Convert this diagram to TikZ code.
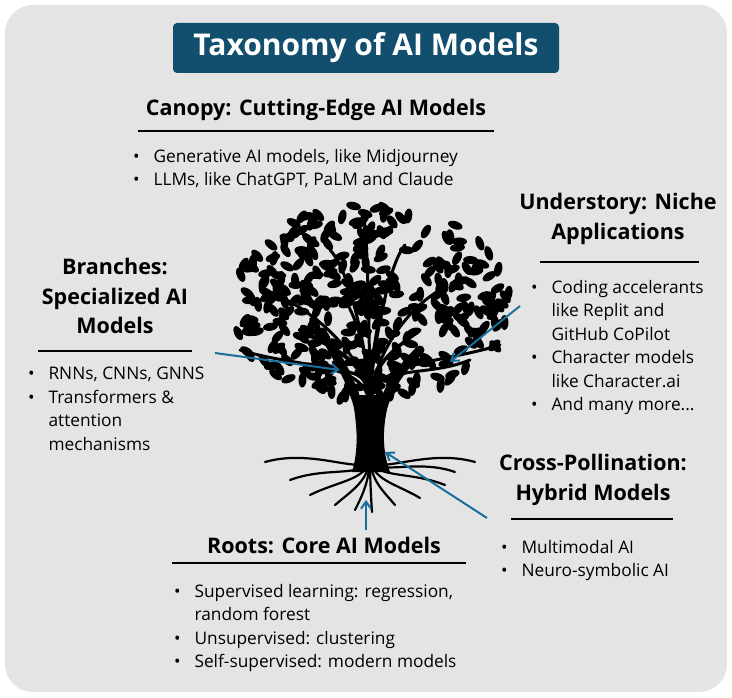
\documentclass[tikz,border=0pt]{standalone}
\usepackage{fontspec}
\setmainfont{Open Sans}
\usetikzlibrary{arrows.meta}
\definecolor{bg}{HTML}{E4E4E4}
\definecolor{titlec}{HTML}{124E6E}
\definecolor{arr}{HTML}{1A6E9C}
\tikzset{
 head/.style={font=\fontsize{21.5}{29.5}\selectfont\bfseries, align=center},
 item/.style={font=\fontsize{17.3}{23.5}\selectfont, anchor=north west, align=left, inner sep=0pt},
 rule/.style={line width=2pt},
 pointer/.style={draw=arr, line width=2pt, -{Straight Barb[length=7pt,width=10pt]}},
 leaf/.style={fill=black},
 br/.style={draw=black, line cap=round}
}
\newcommand{\bul}{\textbullet\hspace{0.8em}}
\begin{document}
\begin{tikzpicture}[x=1pt,y=-1pt]
\useasboundingbox (0,0) rectangle (732,698);
\fill[white] (0,0) rectangle (732,698);
\fill[bg, rounded corners=28pt] (5,5) rectangle (727,692);
\node[fill=titlec, text=white, rounded corners=4pt, minimum width=386pt, minimum height=50pt, font=\fontsize{30}{34}\selectfont\bfseries] (title) at (366,48) {Taxonomy of AI Models};

% tree
\begin{scope}
\pgfmathsetseed{11}
\foreach \i in {1,...,380}{
 \pgfmathsetmacro\ang{rnd*360}
 \pgfmathsetmacro\rr{sqrt(rnd)}
 \pgfmathsetmacro\lx{369+142*\rr*cos(\ang)}
 \pgfmathsetmacro\ly{303+98*\rr*sin(\ang)}
 \pgfmathsetmacro\rot{rnd*180}
 \fill[leaf, rotate around={\rot:(\lx,\ly)}] (\lx,\ly) ellipse (4pt and 7.5pt);
}
\end{scope}
\fill (352,472) .. controls (360,445) and (356,420) .. (352,395) -- (390,395) .. controls (384,420) and (380,445) .. (390,472) -- cycle;
\foreach \ex/\ey/\w in {300/330/4, 240/350/3, 265/290/3, 330/250/3, 365/225/3, 405/245/3, 440/290/3, 500/345/3, 470/360/3, 320/360/3, 420/330/3.5, 385/300/3, 345/300/3}{
 \draw[br, line width=\w pt] (370,410) .. controls (370,360) and ({(370+\ex)/2},{\ey+20}) .. (\ex,\ey);
}
\draw[br, line width=9pt] (362,420) .. controls (355,390) and (345,370) .. (330,345);
\draw[br, line width=9pt] (380,420) .. controls (385,390) and (400,370) .. (420,350);
\foreach \ex/\ey in {265/462, 290/480, 310/495, 335/505, 355/510, 372/512, 395/505, 420/498, 445/485, 475/462, 455/472}{
 \draw[br, line width=2.2pt] (370,455) .. controls (370,480) and ({(370+\ex)/2},{\ey-15}) .. (\ex,\ey);
}

% headings
\node[head] (canopy) at (316,110) {Canopy: Cutting-Edge AI Models};
\draw[rule] (138,131) -- (494,131);
\node[item] (c1) at (133,149) {\bul Generative AI models, like Midjourney\\\bul LLMs, like ChatGPT, PaLM and Claude};

\node[head] (under) at (618,219) {Understory: Niche\\Applications};
\draw[rule] (540,262) -- (699,262);
\node[item] (u1) at (531,280) {\bul Coding accelerants\\\hphantom{\bul}like Replit and\\\hphantom{\bul}GitHub CoPilot\\\bul Character models\\\hphantom{\bul}like Character.ai\\\bul And many more...};

\node[head] (branch) at (115,296) {Branches:\\Specialized AI\\Models};
\draw[rule] (38,351) -- (192,351);
\node[item] (b1) at (28,367) {\bul RNNs, CNNs, GNNS\\\bul Transformers \&\\\hphantom{\bul}attention\\\hphantom{\bul}mechanisms};

\node[head] (cross) at (593,480) {Cross-Pollination:\\Hybrid Models};
\draw[rule] (511,519) -- (673,519);
\node[item] (x1) at (501,540) {\bul Multimodal AI\\\bul Neuro-symbolic AI};

\node[head] (roots) at (324,545) {Roots: Core AI Models};
\draw[rule] (172,563) -- (466,563);
\node[item] (r1) at (174,584) {\bul Supervised learning: regression,\\\hphantom{\bul}random forest\\\bul Unsupervised: clustering\\\bul Self-supervised: modern models};

% pointers
\coordinate (pa1) at (215,353); \coordinate (pb1) at (340,370);
\coordinate (pa2) at (520,306); \coordinate (pb2) at (450,362);
\coordinate (pa3) at (487,518); \coordinate (pb3) at (385,452);
\coordinate (pa4) at (366,530); \coordinate (pb4) at (366,500);
\draw[pointer] (pa1) -- (pb1);
\draw[pointer] (pa2) -- (pb2);
\draw[pointer] (pa3) -- (pb3);
\draw[pointer] (pa4) -- (pb4);
\end{tikzpicture}
\end{document}
